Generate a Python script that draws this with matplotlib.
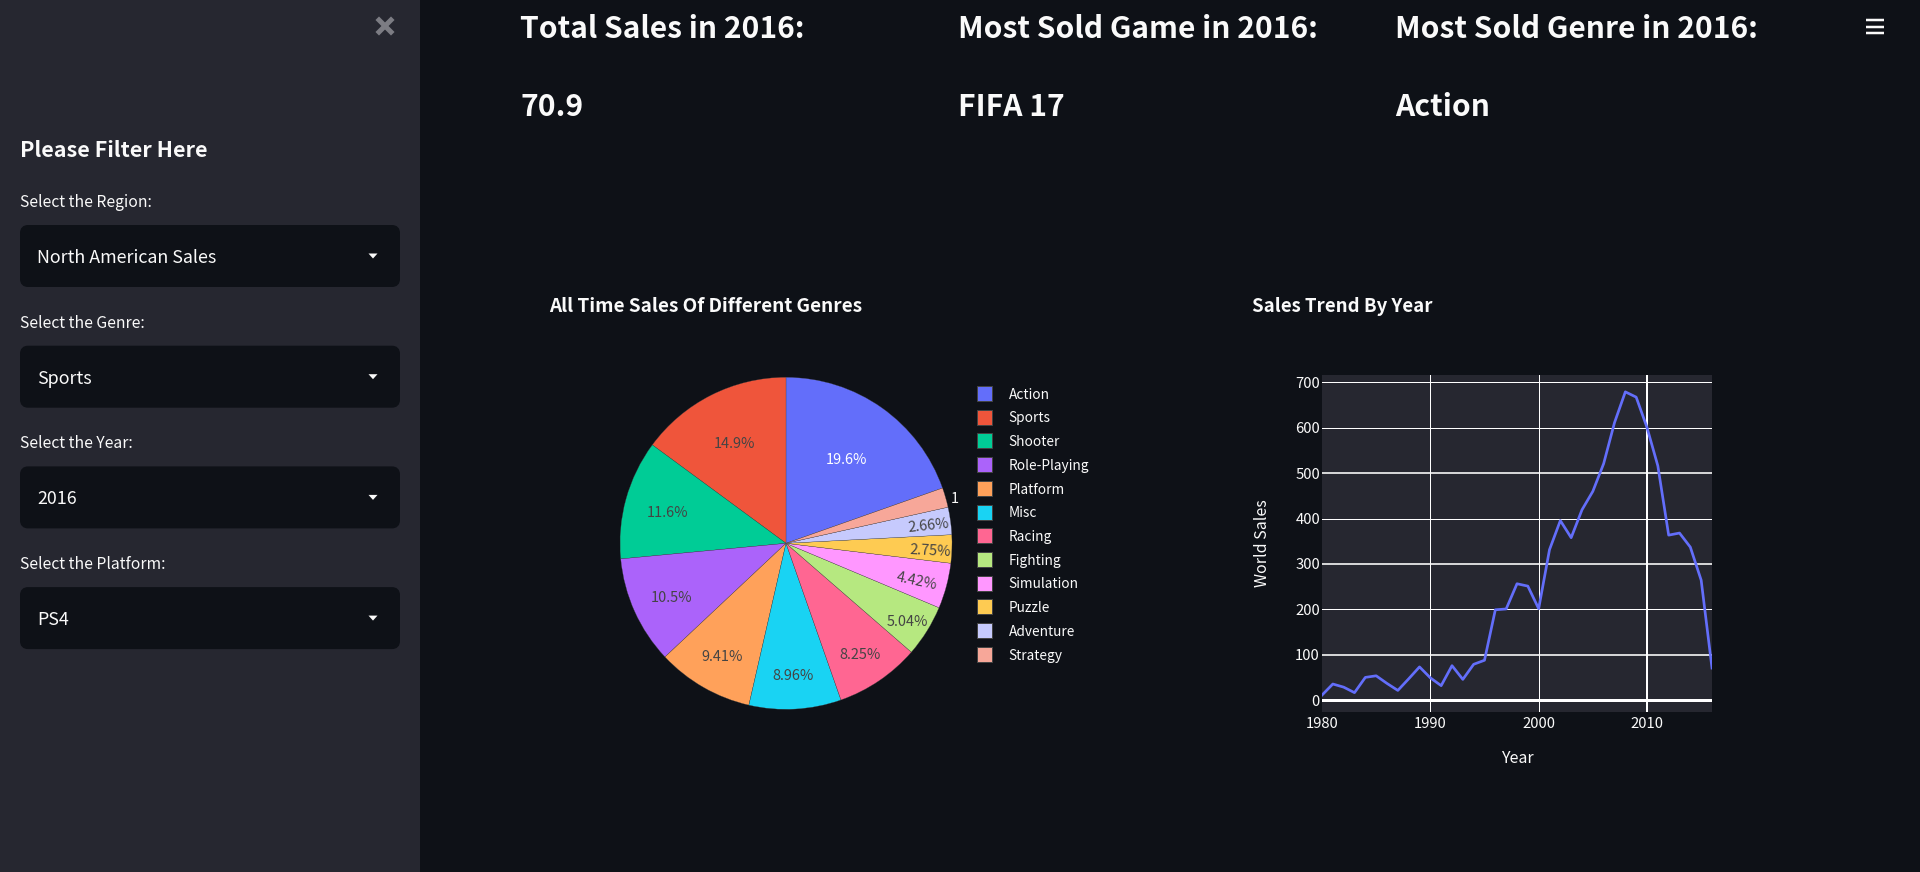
import matplotlib
matplotlib.use("Agg")
import matplotlib.pyplot as plt
from matplotlib.patches import Rectangle, FancyBboxPatch, Polygon

FONT = ['Noto Sans CJK SC', 'DejaVu Sans']
plt.rcParams['font.family'] = FONT

# ---------- data ----------
genres = ['Action', 'Sports', 'Shooter', 'Role-Playing', 'Platform', 'Misc',
          'Racing', 'Fighting', 'Simulation', 'Puzzle', 'Adventure', 'Strategy']
genre_share = [19.6, 14.9, 11.6, 10.5, 9.41, 8.96, 8.25, 5.04, 4.42, 2.75, 2.66, 1.91]
share_labels = ['19.6%', '14.9%', '11.6%', '10.5%', '9.41%', '8.96%', '8.25%',
                '5.04%', '4.42%', '2.75%', '2.66%', '1']
years = list(range(1980, 2017))
world_sales = [11.4, 35.8, 28.9, 16.8, 50.4, 53.9, 37.1, 21.7, 47.2, 73.5, 49.4, 32.2,
               76.2, 46.0, 79.2, 88.1, 199.2, 201.0, 256.5, 251.3, 201.6, 331.5, 395.5,
               357.9, 419.3, 459.9, 521.0, 611.1, 678.9, 667.3, 600.5, 516.0, 363.5,
               368.1, 337.1, 264.4, 70.9]
x_ticks = [1980, 1990, 2000, 2010]
y_ticks = [0, 100, 200, 300, 400, 500, 600, 700]
filters = [('Select the Region:', 'North American Sales'), ('Select the Genre:', 'Sports'),
           ('Select the Year:', '2016'), ('Select the Platform:', 'PS4')]
kpis = [('Total Sales in 2016:', '70.9'), ('Most Sold Game in 2016:', 'FIFA 17'),
        ('Most Sold Genre in 2016:', 'Action')]

# ---------- style ----------
W, H = 1920, 872
BG, PANEL, FG = '#0e1117', '#262730', '#fafafa'
colors = ['#636efa', '#EF553B', '#00cc96', '#ab63fa', '#FFA15A', '#19d3f3',
          '#FF6692', '#B6E880', '#FF97FF', '#FECB52', '#C6CAFD', '#F7A799']
label_pos = [(846.7, 459), (734.7, 442.7), (668, 511.7), (671.7, 596.7), (721.7, 655.7), (793, 674.7),
             (860.3, 653.7), (907.7, 620.7), (916, 580), (930, 550), (929.3, 524.7), (954.7, 497.7)]
label_rot = [0, 0, 0, 0, 0, 0, 0, 0, -12, -3, 6, 0]
label_col = ['#ffffff'] + ['#444444'] * 10 + [FG]
px = lambda v: v * 0.72


def axes_px(x0, y0, x1, y1):
    return fig.add_axes([x0 / W, 1 - y1 / H, (x1 - x0) / W, (y1 - y0) / H])


fig = plt.figure(figsize=(W / 100, H / 100), dpi=100, facecolor=BG)

# ---------- pie ----------
CX, CY, R = 786, 543.3, 166
ax_pie = axes_px(CX - R, CY - R, CX + R, CY + R)
ax_pie.pie(genre_share, colors=colors, startangle=90 - genre_share[0] * 3.6, counterclock=True,
           radius=1, wedgeprops=dict(edgecolor='#444444', linewidth=0.2))
ax_pie.set_xlim(-1, 1)
ax_pie.set_ylim(-1, 1)
ax_pie.set_position([(CX - R) / W, 1 - (CY + R) / H, 2 * R / W, 2 * R / H])

# ---------- line ----------
ax_line = axes_px(1322, 375, 1712, 712)
ax_line.set_facecolor(PANEL)
ax_line.plot(years, world_sales, color='#636efa', lw=px(2.7), solid_joinstyle='round', zorder=5)
ax_line.set_xlim(1980, 2016)
ax_line.set_ylim(-25.8, 716)
ax_line.set_xticks(x_ticks)
ax_line.set_yticks(y_ticks)
ax_line.grid(True, color='white', lw=px(1.0), zorder=1)
ax_line.set_axisbelow(True)
for s in ax_line.spines.values():
    s.set_visible(False)
ax_line.tick_params(length=0, colors=FG, labelsize=px(14.8))
ax_line.tick_params(axis='x', pad=px(5))
ax_line.tick_params(axis='y', pad=px(2))
for v, gl in zip(y_ticks, ax_line.get_ygridlines()):
    gl.set_linewidth(px(3.0 if v == 0 else 1.6 if v in (100, 300, 500) else 1.0))
for v, gl in zip(x_ticks, ax_line.get_xgridlines()):
    gl.set_linewidth(px(2.0 if v == 2010 else 1.0))
    if v == 1980:
        gl.set_visible(False)

# ---------- interface overlay in pixel coordinates ----------
ui = fig.add_axes([0, 0, 1, 1], zorder=10)
ui.set_xlim(0, W)
ui.set_ylim(H, 0)
ui.axis('off')


def T(x, y, s, size, **kw):
    """Text whose cap-height middle sits at y."""
    kw.setdefault('color', FG)
    kw.setdefault('ha', 'left')
    return ui.text(x, y + 0.34 * size, s, fontsize=px(size), family=FONT, va='baseline',
                   rotation_mode='anchor', **kw)


ui.add_patch(Rectangle((0, 0), 420, H, color=PANEL, zorder=0, lw=0))
ui.plot([379, 391], [20, 32], color='#7c7c83', lw=px(5), solid_capstyle='projecting')
ui.plot([379, 391], [32, 20], color='#7c7c83', lw=px(5), solid_capstyle='projecting')
T(20.5, 150, 'Please Filter Here', 21.5, fontweight='bold')
for i, (lab, val) in enumerate(filters):
    top = 225 + i * 120.7
    T(20.5, top - 23.5, lab, 15.7)
    ui.add_patch(FancyBboxPatch((24, top + 4), 372, 54, boxstyle='round,pad=0,rounding_size=4',
                                mutation_aspect=1, fc=BG, ec=BG, lw=px(8), zorder=1))
    T(37, top + 32, val, 17.9, zorder=2)
    ui.add_patch(Polygon([[368.5, top + 28.5], [377.5, top + 28.5], [373, top + 33.5]],
                         closed=True, fc=FG, ec='none', zorder=2))

for (head, val), x in zip(kpis, (520, 958, 1395)):
    T(x, 28.3, head, 30, fontweight='bold')
    T(x, 106.3, val, 30, fontweight='bold')
for y in (20.5, 27, 33.5):
    ui.plot([1866, 1884], [y, y], color=FG, lw=px(2.5), solid_capstyle='butt')

T(549, 306, 'All Time Sales Of Different Genres', 19, fontweight='bold')
T(1251.5, 306, 'Sales Trend By Year', 18.6, fontweight='bold')
ui.text(1267, 543, 'World Sales', fontsize=px(16), family=FONT, color=FG, rotation=90,
        ha='center', va='baseline', rotation_mode='anchor')
T(1517, 757.5, 'Year', 16, ha='center')

for s, (x, y), r, c in zip(share_labels, label_pos, label_rot, label_col):
    T(x, y, s, 14.5, ha='center', rotation=r, color=c)

for i, (g, c) in enumerate(zip(genres, colors)):
    y = 394 + i * 23.72
    ui.add_patch(Rectangle((977, y - 8), 15, 15, fc=c, ec='#444444', lw=px(1)))
    T(1008.5, y, g, 13.7)

fig.savefig('out.png', dpi=100, facecolor=BG)
